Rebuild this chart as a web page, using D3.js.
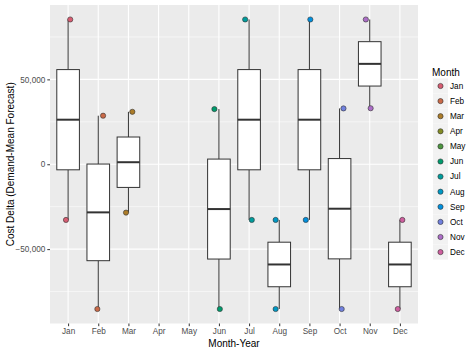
<!DOCTYPE html>
<html>
<head>
<meta charset="utf-8">
<script src="https://cdn.jsdelivr.net/npm/d3@7"></script>
<style>
  html, body { margin: 0; padding: 0; background: #fff; }
  svg { display: block; font-family: "Liberation Sans", Arial, sans-serif; }
</style>
</head>
<body>
<svg id="chart" width="474" height="351"></svg>
<script>
// ---- data ----
const months = ["Jan","Feb","Mar","Apr","May","Jun","Jul","Aug","Sep","Oct","Nov","Dec"];
// two observations per month (Apr and May have none)
const obsMonth = ["Jan","Jan","Feb","Feb","Mar","Mar","Jun","Jun","Jul","Jul","Aug","Aug","Sep","Sep","Oct","Oct","Nov","Nov","Dec","Dec"];
const obsValue = [85300,-32800, 28600,-85300, 30900,-28500, 32500,-85300, 85300,-32800, -32800,-85300, 85300,-32800, 32900,-85300, 85300,33000, -32800,-85300];
// horizontal jitter of each point (in category units)
const obsJitter = [0.07,-0.07, 0.16,-0.03, 0.13,-0.08, -0.15,0.03, -0.13,0.09, -0.12,-0.12, 0.03,-0.12, 0.13,0.07, -0.13,0.03, 0.08,-0.07];
const yTicks = [-50000, 0, 50000];
const yMinor = [-75000, -25000, 25000, 75000];

// ---- layout ----
const svg = d3.select("#chart");
const panel = {left: 50, right: 418, top: 5, bottom: 323.5};

const x = d3.scalePoint().domain(months)
  .range([panel.left, panel.right]).padding(0.6);
const step = x.step();
const ext = d3.extent(obsValue);
const pad = (ext[1] - ext[0]) * 0.05;
const y = d3.scaleLinear().domain([ext[0] - pad, ext[1] + pad])
  .range([panel.bottom, panel.top]);

const color = d3.scaleOrdinal().domain(months)
  .range(months.map((m, i) => d3.hcl(15 + i * 30, 52, 56).formatHex()));

// panel background
svg.append("rect").attr("x", panel.left).attr("y", panel.top)
  .attr("width", panel.right - panel.left).attr("height", panel.bottom - panel.top)
  .attr("fill", "#EBEBEB");

// grid
svg.append("g").selectAll("line").data(yMinor).join("line")
  .attr("x1", panel.left).attr("x2", panel.right)
  .attr("y1", d => y(d)).attr("y2", d => y(d))
  .attr("stroke", "#fff").attr("stroke-width", 0.55);
svg.append("g").selectAll("line").data(yTicks).join("line")
  .attr("x1", panel.left).attr("x2", panel.right)
  .attr("y1", d => y(d)).attr("y2", d => y(d))
  .attr("stroke", "#fff").attr("stroke-width", 1.1);
svg.append("g").selectAll("line").data(months).join("line")
  .attr("x1", d => x(d)).attr("x2", d => x(d))
  .attr("y1", panel.top).attr("y2", panel.bottom)
  .attr("stroke", "#fff").attr("stroke-width", 1.1);

// box stats
const stats = months.map(m => {
  const v = obsValue.filter((_, i) => obsMonth[i] === m).sort(d3.ascending);
  if (!v.length) return null;
  return {m, min: v[0], max: v[v.length - 1],
    q1: d3.quantile(v, 0.25), med: d3.quantile(v, 0.5), q3: d3.quantile(v, 0.75)};
}).filter(d => d);

const bw = step * 0.75;
const boxes = svg.append("g").selectAll("g").data(stats).join("g");
boxes.append("line")
  .attr("x1", d => x(d.m)).attr("x2", d => x(d.m))
  .attr("y1", d => y(d.max)).attr("y2", d => y(d.q3))
  .attr("stroke", "#333").attr("stroke-width", 1);
boxes.append("line")
  .attr("x1", d => x(d.m)).attr("x2", d => x(d.m))
  .attr("y1", d => y(d.q1)).attr("y2", d => y(d.min))
  .attr("stroke", "#333").attr("stroke-width", 1);
boxes.append("rect")
  .attr("x", d => x(d.m) - bw / 2).attr("width", bw)
  .attr("y", d => y(d.q3)).attr("height", d => y(d.q1) - y(d.q3))
  .attr("fill", "#fff").attr("stroke", "#333").attr("stroke-width", 1);
boxes.append("line")
  .attr("x1", d => x(d.m) - bw / 2).attr("x2", d => x(d.m) + bw / 2)
  .attr("y1", d => y(d.med)).attr("y2", d => y(d.med))
  .attr("stroke", "#333").attr("stroke-width", 2);

// points
svg.append("g").selectAll("circle").data(obsValue).join("circle")
  .attr("cx", (d, i) => x(obsMonth[i]) + obsJitter[i] * step)
  .attr("cy", d => y(d))
  .attr("r", 2.6)
  .attr("fill", (d, i) => color(obsMonth[i]))
  .attr("stroke", "#333").attr("stroke-width", 0.6);

// axes
const yAxis = svg.append("g").attr("transform", `translate(${panel.left},0)`)
  .call(d3.axisLeft(y).tickValues(yTicks).tickSize(2.7).tickPadding(2)
    .tickFormat(d3.format(",")));
yAxis.select(".domain").remove();
yAxis.selectAll("line").attr("stroke", "#333");
yAxis.selectAll("text").attr("fill", "#4D4D4D").attr("font-size", 8.2)
  .attr("font-family", "Liberation Sans, Arial, sans-serif");

const xAxis = svg.append("g").attr("transform", `translate(0,${panel.bottom})`)
  .call(d3.axisBottom(x).tickSize(2.7).tickPadding(2));
xAxis.select(".domain").remove();
xAxis.selectAll("line").attr("stroke", "#333");
xAxis.selectAll("text").attr("fill", "#4D4D4D").attr("font-size", 8.2)
  .attr("font-family", "Liberation Sans, Arial, sans-serif");

// axis titles
svg.append("text").attr("x", (panel.left + panel.right) / 2).attr("y", 346.5)
  .attr("text-anchor", "middle").attr("font-size", 10).attr("fill", "#000")
  .text("Month-Year");
svg.append("text")
  .attr("transform", `translate(13.5,${(panel.top + panel.bottom) / 2}) rotate(-90)`)
  .attr("text-anchor", "middle").attr("font-size", 10).attr("fill", "#000")
  .text("Cost Delta (Demand-Mean Forecast)");

// legend
const leg = svg.append("g").attr("transform", "translate(432,0)");
leg.append("text").attr("x", 0).attr("y", 75.5).attr("font-size", 10)
  .attr("fill", "#000").text("Month");
const rowH = 15.1;
const items = leg.selectAll("g.item").data(months).join("g")
  .attr("class", "item")
  .attr("transform", (d, i) => `translate(0,${78.5 + i * rowH})`);
items.append("rect").attr("x", 1).attr("y", 0).attr("width", 15).attr("height", 15)
  .attr("fill", "#F2F2F2");
items.append("circle").attr("cx", 8.5).attr("cy", 7.5).attr("r", 2.6)
  .attr("fill", d => color(d)).attr("stroke", "#333").attr("stroke-width", 0.6);
items.append("text").attr("x", 18).attr("y", 7.5).attr("dy", "0.35em")
  .attr("font-size", 8.2).attr("fill", "#000").text(d => d);
</script>
</body>
</html>
